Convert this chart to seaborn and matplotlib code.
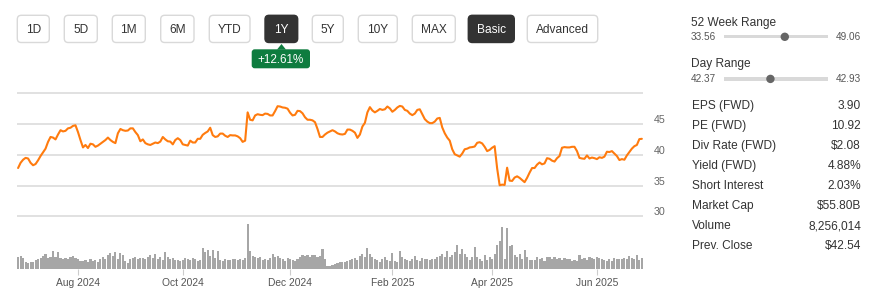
import numpy as np
import pandas as pd
import matplotlib
matplotlib.use("Agg")
import matplotlib.pyplot as plt
import seaborn as sns
from matplotlib.patches import FancyBboxPatch, Polygon, Circle, Rectangle
from matplotlib.transforms import blended_transform_factory, offset_copy

# ---------------- data ----------------
holidays = ["2024-07-04", "2024-09-02", "2024-11-28", "2024-12-25", "2025-01-01",
            "2025-01-09", "2025-01-20", "2025-02-17", "2025-04-18", "2025-05-26",
            "2025-06-19"]
start_date, end_date = "2024-06-27", "2025-06-27"

price = [
    37.85, 38.7, 39.2, 39.5, 39.4, 38.7, 38.3, 38.5, 39.1, 39.8,
    40.4, 41.0, 42.1, 42.9, 42.8, 42.5, 43.3, 44.0, 43.8, 43.9,
    44.3, 44.4, 44.7, 44.8, 43.7, 42.4, 41.2, 41.6, 41.1, 41.8,
    41.7, 41.3, 41.5, 41.8, 42.1, 42.4, 42.8, 42.4, 42.1, 41.9,
    43.5, 44.2, 44.0, 43.9, 43.95, 44.3, 44.3, 43.7, 43.2, 42.2,
    42.5, 41.9, 41.7, 41.6, 41.8, 42.0, 41.9, 42.15, 42.9, 42.5,
    42.2, 42.15, 41.7, 42.4, 42.7, 42.4, 41.7, 41.6, 41.5, 42.3,
    42.0, 42.0, 42.6, 42.6, 43.25, 43.55, 43.8, 44.4, 43.2, 42.9,
    43.0, 43.45, 43.45, 43.1, 42.9, 43.2, 43.15, 43.15, 43.0, 42.7,
    42.1, 42.3, 46.9, 45.7, 45.6, 46.4, 46.6, 46.5, 46.45, 46.7,
    46.65, 46.4, 46.4, 47.1, 47.9, 47.85, 47.7, 47.65, 47.5, 46.85,
    46.4, 46.5, 47.15, 47.1, 46.75, 46.1, 45.7, 45.7, 45.6, 45.3,
    44.2, 42.9, 42.9, 43.3, 43.6, 43.8, 44.0, 43.8, 43.5, 43.35,
    43.3, 43.4, 44.1, 44.1, 43.9, 43.6, 42.75, 43.3, 44.6, 45.2,
    46.9, 47.75, 47.2, 46.9, 47.15, 47.45, 47.3, 47.4, 47.85, 47.55,
    47.0, 47.3, 47.7, 47.95, 47.85, 47.3, 47.15, 46.7, 46.45, 46.7,
    47.3, 47.4, 46.6, 45.8, 45.4, 45.15, 45.15, 45.4, 45.9, 46.0,
    44.45, 43.5, 42.8, 42.3, 40.9, 40.1, 39.9, 39.7, 40.2, 40.9,
    41.0, 41.2, 41.25, 41.35, 41.95, 42.05, 41.85, 41.3, 40.6, 40.8,
    41.15, 41.4, 37.8, 35.05, 35.15, 35.1, 37.9, 35.8, 35.75, 36.3,
    36.5, 36.25, 35.9, 35.55, 36.25, 37.1, 37.85, 37.85, 38.4, 38.75,
    38.45, 38.6, 39.45, 39.35, 39.05, 38.9, 39.45, 39.8, 41.15, 41.25,
    41.2, 41.2, 41.3, 41.3, 40.6, 39.5, 39.4, 39.35, 39.9, 39.4,
    39.55, 39.45, 39.3, 39.6, 39.5, 39.7, 40.5, 40.45, 40.6, 40.2,
    39.8, 39.15, 39.3, 39.2, 39.9, 40.45, 41.0, 41.4, 41.6, 42.55,
    42.6,
]

volume_m = [
    9.6, 10.4, 8.8, 5.6, 4.8, 5.6, 5.6, 7.2, 8.0, 8.8,
    10.4, 12.0, 8.8, 9.6, 14.4, 9.6, 13.6, 8.8, 8.0, 8.8,
    8.0, 9.6, 10.4, 8.8, 8.0, 6.4, 6.4, 7.2, 5.6, 8.0,
    6.4, 7.2, 5.6, 8.0, 9.6, 8.0, 11.2, 12.8, 10.4, 13.6,
    8.0, 12.8, 11.2, 6.4, 4.8, 8.0, 8.8, 9.6, 8.0, 8.8,
    8.8, 8.0, 9.6, 11.2, 8.8, 12.0, 8.0, 9.6, 7.2, 13.6,
    9.6, 8.0, 8.8, 7.2, 7.2, 6.4, 7.2, 8.8, 8.0, 7.2,
    8.8, 8.0, 6.4, 7.2, 16.8, 13.6, 15.2, 10.4, 15.2, 8.8,
    14.4, 7.2, 6.4, 8.0, 7.2, 7.2, 8.0, 8.0, 7.2, 8.0,
    7.2, 8.8, 36.0, 14.4, 10.4, 9.6, 8.8, 9.6, 7.2, 8.0,
    7.2, 8.8, 12.0, 9.6, 10.4, 8.8, 8.0, 6.4, 8.8, 8.0,
    7.2, 6.4, 8.0, 9.6, 11.2, 10.4, 11.2, 9.6, 11.2, 11.2,
    9.6, 10.4, 16.0, 8.0, 2.4, 2.4, 3.2, 4.0, 4.8, 5.6,
    5.6, 5.6, 6.4, 7.2, 8.0, 8.8, 7.2, 10.4, 12.0, 9.6,
    16.8, 12.0, 9.6, 8.0, 7.2, 5.6, 8.0, 9.6, 7.2, 6.4,
    12.8, 6.4, 5.6, 14.4, 9.6, 8.0, 7.2, 6.4, 8.0, 10.4,
    7.2, 6.4, 8.8, 8.0, 8.0, 7.2, 8.0, 8.0, 9.6, 10.4,
    12.0, 9.6, 14.4, 9.6, 11.2, 13.6, 19.2, 12.0, 16.0, 12.0,
    9.6, 7.2, 9.6, 17.6, 9.6, 8.0, 6.4, 11.2, 7.2, 9.6,
    8.0, 12.0, 19.2, 22.4, 33.6, 8.0, 32.8, 18.4, 19.2, 11.2,
    9.6, 12.0, 8.0, 15.2, 9.6, 7.2, 7.2, 7.2, 9.6, 8.0,
    8.8, 6.4, 9.6, 9.6, 8.0, 9.6, 8.0, 8.8, 7.2, 8.8,
    8.0, 8.0, 6.4, 7.2, 6.4, 11.2, 8.0, 8.8, 7.2, 9.6,
    8.8, 8.0, 9.6, 8.8, 8.0, 7.2, 6.4, 8.0, 6.4, 8.8,
    8.0, 8.0, 8.0, 8.8, 8.0, 10.4, 8.8, 8.0, 11.2, 7.2,
    8.8,
]

tick_months = ["2024-08", "2024-10", "2024-12", "2025-02", "2025-04", "2025-06"]
price_ticks = [30, 35, 40, 45, 50]
price_tick_labels = ["30", "35", "40", "45", ""]

range_buttons = ["1D", "5D", "1M", "6M", "YTD", "1Y", "5Y", "10Y", "MAX"]
view_buttons = ["Basic", "Advanced"]
active_buttons = ["1Y", "Basic"]
change_text = "+12.61%"

last_price = 42.62
week52_low, week52_high = 33.56, 49.06
day_low, day_high = 42.37, 42.93
week52_labels = ["33.56", "49.06"]
day_labels = ["42.37", "42.93"]

metric_names = ["EPS (FWD)", "PE (FWD)", "Div Rate (FWD)", "Yield (FWD)",
                "Short Interest", "Market Cap", "Volume", "Prev. Close"]
metric_values = ["3.90", "10.92", "$2.08", "4.88%", "2.03%", "$55.80B",
                 "8,256,014", "$42.54"]

# ---------------- build frame ----------------
dates = pd.bdate_range(start_date, end_date)
dates = dates[~dates.isin(pd.to_datetime(holidays))]
df = pd.DataFrame({"date": dates, "idx": np.arange(len(dates)),
                   "price": price, "volume": volume_m})
tick_pos = [int(df.index[df["date"] >= pd.Timestamp(m + "-01")][0]) for m in tick_months]
tick_lab = [pd.Timestamp(m + "-01").strftime("%b %Y") for m in tick_months]

# ---------------- style ----------------
sns.set_theme(style="white")
plt.rcParams["font.family"] = ["Liberation Sans", "DejaVu Sans"]

W, H = 875, 293
fig = plt.figure(figsize=(W / 100, H / 100), dpi=100)
fig.patch.set_facecolor("white")


def rect(l, t, r, b):
    return [l / W, 1 - b / H, (r - l) / W, (b - t) / H]


# overlay for UI
axo = fig.add_axes([0, 0, 1, 1])
axo.set_xlim(0, W)
axo.set_ylim(H, 0)
axo.axis("off")
axo.patch.set_alpha(0)

# price panel
x_lo, x_hi = -0.44, 250.46
ax = fig.add_axes(rect(17, 90, 643, 220))
sns.lineplot(data=df, x="idx", y="price", ax=ax, color="#ff7b0e", linewidth=1.5)
ppu = (216.3 - 93.3) / 20.0
ax.set_ylim(30 - (220 - 216.3) / ppu, 50 + (93.3 - 90) / ppu)
ax.set_xlim(x_lo, x_hi)
ax.set_yticks(price_ticks)
ax.set_yticklabels([])
ax.set_xticks([])
ax.yaxis.grid(True, color="#d9d9d9", linewidth=1.1)
ax.tick_params(axis="y", length=0)
ax.set_xlabel("")
ax.set_ylabel("")
ax.patch.set_alpha(0)
for s in ax.spines.values():
    s.set_visible(False)
btrans = blended_transform_factory(ax.transAxes, ax.transData)
ltrans = offset_copy(btrans, fig=fig, x=11, y=4, units="dots")
for v, lab in zip(price_ticks, price_tick_labels):
    if lab:
        ax.text(1.0, v, lab, transform=ltrans, ha="left", va="center",
                fontsize=7.7, color="#666666")

# volume panel
axv = fig.add_axes(rect(17, 216, 643, 269))
axv.bar(df["idx"], df["volume"], width=0.84, color="#a6a6a6", linewidth=0)
axv.set_xlim(x_lo, x_hi)
axv.set_ylim(0, 42.4)
axv.set_yticks([])
axv.set_xticks(tick_pos)
axv.set_xticklabels(tick_lab)
axv.tick_params(axis="x", length=4.4, width=0.8, color="#cccccc",
                labelcolor="#555555", labelsize=7.4, pad=2.2, bottom=True)
axv.set_xlabel("")
axv.set_ylabel("")
axv.patch.set_alpha(0)
for s in axv.spines.values():
    s.set_visible(False)

# ---------------- buttons ----------------
btn_pos = {"1D": (17.3, 49.3), "5D": (64.3, 97.3), "1M": (112.3, 145.3),
           "6M": (160.7, 194.0), "YTD": (209.3, 250.0), "1Y": (265.0, 297.7),
           "5Y": (312.3, 343.3), "10Y": (358.3, 397.3), "MAX": (412.3, 455.3),
           "Basic": (468.3, 514.3), "Advanced": (527.3, 597.7)}
bt, bb = 15.3, 42.5
for lab in range_buttons + view_buttons:
    l, r = btn_pos[lab]
    dark = lab in active_buttons
    axo.add_patch(FancyBboxPatch((l, bt), r - l, bb - bt,
                                 boxstyle="round,pad=0,rounding_size=4",
                                 facecolor="#333333" if dark else "white",
                                 edgecolor="#333333" if dark else "#d9d9d9",
                                 linewidth=1.0))
    axo.text((l + r) / 2, 33.2, lab, ha="center", va="baseline", fontsize=8.6,
             color="white" if dark else "#333333")

# change badge
green = "#0e7c3f"
axo.add_patch(Polygon([[277.0, 49.6], [286.0, 49.6], [281.5, 44.0]], closed=True,
                      facecolor=green, edgecolor="none"))
axo.add_patch(FancyBboxPatch((251.7, 49.3), 58.3, 19.0,
                             boxstyle="round,pad=0,rounding_size=3",
                             facecolor=green, edgecolor="none"))
axo.text(281, 63.2, change_text, ha="center", va="baseline", fontsize=8.4,
         color="white")

# ---------------- right panel ----------------
txt = "#333333"
axo.text(691, 26.0, "52 Week Range", ha="left", va="baseline", fontsize=8.6, color=txt)
axo.text(691, 40.3, week52_labels[0], ha="left", va="baseline", fontsize=7.2, color="#555555")
axo.text(861, 40.3, week52_labels[1], ha="right", va="baseline", fontsize=7.2, color="#555555")
tl, tr = 724, 828
axo.add_patch(Rectangle((tl, 35.2), tr - tl, 3.2, facecolor="#d9d9d9", edgecolor="none"))
k1 = tl + (tr - tl) * (last_price - week52_low) / (week52_high - week52_low)
axo.add_patch(Circle((k1, 36.8), 4.2, facecolor="#666666", edgecolor="none"))

axo.text(691, 67.2, "Day Range", ha="left", va="baseline", fontsize=8.6, color=txt)
axo.text(691, 82.2, day_labels[0], ha="left", va="baseline", fontsize=7.2, color="#555555")
axo.text(861, 82.2, day_labels[1], ha="right", va="baseline", fontsize=7.2, color="#555555")
axo.add_patch(Rectangle((tl, 77.3), tr - tl, 3.2, facecolor="#d9d9d9", edgecolor="none"))
k2 = tl + (tr - tl) * (last_price - day_low) / (day_high - day_low)
axo.add_patch(Circle((k2, 78.9), 4.2, facecolor="#666666", edgecolor="none"))

for n, (name, val) in enumerate(zip(metric_names, metric_values)):
    yb = 109.3 + 20 * n
    axo.text(691.5, yb, name, ha="left", va="baseline", fontsize=8.6, color=txt)
    axo.text(861, yb, val, ha="right", va="baseline", fontsize=8.6, color=txt)

fig.savefig("out.png", dpi=100, facecolor="white")
